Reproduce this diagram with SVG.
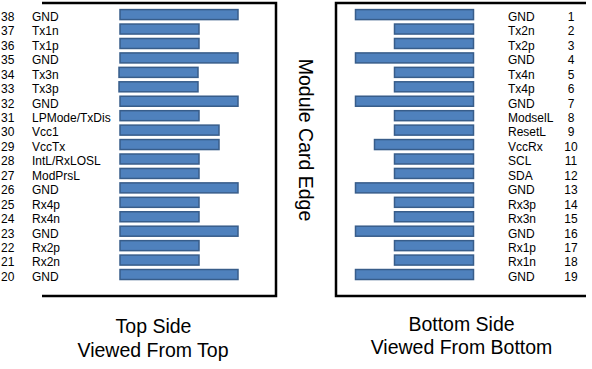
<svg xmlns="http://www.w3.org/2000/svg" width="592" height="369" viewBox="0 0 592 369">
<style>
.bar{fill:#4F81BD;stroke:#385D8A;stroke-width:1.5}
.t{font-family:"Liberation Sans",Arial,sans-serif;font-size:12px;fill:#000}
.n{font-family:"Liberation Sans",Arial,sans-serif;font-size:12px;fill:#000;text-anchor:middle}
.big{font-family:"Liberation Sans",Arial,sans-serif;font-size:19.5px;fill:#000;text-anchor:middle}
.frame{fill:none;stroke:#000;stroke-width:2.5}
</style>
<rect width="592" height="369" fill="#fff"/>
<g id="frames">
<path class="frame" d="M42 3 H276 V296 H42"/>
<path class="frame" d="M586 3 H336 V296 H586"/>
</g>
<g id="connectors"></g>
<g id="top-side">
<g id="pin38"><text class="t" x="1" y="20.9">38</text><text class="t" x="32" y="20.9">GND</text><rect class="bar" x="120" y="9.6" width="118" height="10"/></g>
<g id="pin37"><text class="t" x="1" y="35.34">37</text><text class="t" x="32" y="35.34">Tx1n</text><rect class="bar" x="120" y="24.04" width="79" height="10"/></g>
<g id="pin36"><text class="t" x="1" y="49.78">36</text><text class="t" x="32" y="49.78">Tx1p</text><rect class="bar" x="120" y="38.48" width="79" height="10"/></g>
<g id="pin35"><text class="t" x="1" y="64.22">35</text><text class="t" x="32" y="64.22">GND</text><rect class="bar" x="120" y="52.92" width="118" height="10"/></g>
<g id="pin34"><text class="t" x="1" y="78.66">34</text><text class="t" x="32" y="78.66">Tx3n</text><rect class="bar" x="119" y="67.36" width="79" height="10"/></g>
<g id="pin33"><text class="t" x="1" y="93.1">33</text><text class="t" x="32" y="93.1">Tx3p</text><rect class="bar" x="119" y="81.8" width="79" height="10"/></g>
<g id="pin32"><text class="t" x="1" y="107.54">32</text><text class="t" x="32" y="107.54">GND</text><rect class="bar" x="120" y="96.24" width="118" height="10"/></g>
<g id="pin31"><text class="t" x="1" y="121.98">31</text><text class="t" x="32" y="121.98">LPMode/TxDis</text><rect class="bar" x="120" y="110.68" width="79" height="10"/></g>
<g id="pin30"><text class="t" x="1" y="136.42">30</text><text class="t" x="32" y="136.42">Vcc1</text><rect class="bar" x="120" y="125.12" width="99" height="10"/></g>
<g id="pin29"><text class="t" x="1" y="150.86">29</text><text class="t" x="32" y="150.86">VccTx</text><rect class="bar" x="120" y="139.56" width="99" height="10"/></g>
<g id="pin28"><text class="t" x="1" y="165.3">28</text><text class="t" x="32" y="165.3">IntL/RxLOSL</text><rect class="bar" x="120" y="154" width="79" height="10"/></g>
<g id="pin27"><text class="t" x="1" y="179.74">27</text><text class="t" x="32" y="179.74">ModPrsL</text><rect class="bar" x="120" y="168.44" width="79" height="10"/></g>
<g id="pin26"><text class="t" x="1" y="194.18">26</text><text class="t" x="32" y="194.18">GND</text><rect class="bar" x="120" y="182.88" width="118" height="10"/></g>
<g id="pin25"><text class="t" x="1" y="208.62">25</text><text class="t" x="32" y="208.62">Rx4p</text><rect class="bar" x="120" y="197.32" width="79" height="10"/></g>
<g id="pin24"><text class="t" x="1" y="223.06">24</text><text class="t" x="32" y="223.06">Rx4n</text><rect class="bar" x="120" y="211.76" width="79" height="10"/></g>
<g id="pin23"><text class="t" x="1" y="237.5">23</text><text class="t" x="32" y="237.5">GND</text><rect class="bar" x="120" y="226.2" width="118" height="10"/></g>
<g id="pin22"><text class="t" x="1" y="251.94">22</text><text class="t" x="32" y="251.94">Rx2p</text><rect class="bar" x="120" y="240.64" width="79" height="10"/></g>
<g id="pin21"><text class="t" x="1" y="266.38">21</text><text class="t" x="32" y="266.38">Rx2n</text><rect class="bar" x="120" y="255.08" width="79" height="10"/></g>
<g id="pin20"><text class="t" x="1" y="280.82">20</text><text class="t" x="32" y="280.82">GND</text><rect class="bar" x="120" y="269.52" width="118" height="10"/></g>
</g>
<g id="bottom-side">
<g id="pin1"><rect class="bar" x="355.5" y="9.6" width="118" height="10"/><text class="t" x="508" y="20.9">GND</text><text class="n" x="571" y="20.9">1</text></g>
<g id="pin2"><rect class="bar" x="394.5" y="24.04" width="79" height="10"/><text class="t" x="508" y="35.34">Tx2n</text><text class="n" x="571" y="35.34">2</text></g>
<g id="pin3"><rect class="bar" x="394.5" y="38.48" width="79" height="10"/><text class="t" x="508" y="49.78">Tx2p</text><text class="n" x="571" y="49.78">3</text></g>
<g id="pin4"><rect class="bar" x="355.5" y="52.92" width="118" height="10"/><text class="t" x="508" y="64.22">GND</text><text class="n" x="571" y="64.22">4</text></g>
<g id="pin5"><rect class="bar" x="394.5" y="67.36" width="79" height="10"/><text class="t" x="508" y="78.66">Tx4n</text><text class="n" x="571" y="78.66">5</text></g>
<g id="pin6"><rect class="bar" x="394.5" y="81.8" width="79" height="10"/><text class="t" x="508" y="93.1">Tx4p</text><text class="n" x="571" y="93.1">6</text></g>
<g id="pin7"><rect class="bar" x="355.5" y="96.24" width="118" height="10"/><text class="t" x="508" y="107.54">GND</text><text class="n" x="571" y="107.54">7</text></g>
<g id="pin8"><rect class="bar" x="394.5" y="110.68" width="79" height="10"/><text class="t" x="508" y="121.98">ModselL</text><text class="n" x="571" y="121.98">8</text></g>
<g id="pin9"><rect class="bar" x="394.5" y="125.12" width="79" height="10"/><text class="t" x="508" y="136.42">ResetL</text><text class="n" x="571" y="136.42">9</text></g>
<g id="pin10"><rect class="bar" x="374.5" y="139.56" width="99" height="10"/><text class="t" x="508" y="150.86">VccRx</text><text class="n" x="571" y="150.86">10</text></g>
<g id="pin11"><rect class="bar" x="394.5" y="154" width="79" height="10"/><text class="t" x="508" y="165.3">SCL</text><text class="n" x="571" y="165.3">11</text></g>
<g id="pin12"><rect class="bar" x="394.5" y="168.44" width="79" height="10"/><text class="t" x="508" y="179.74">SDA</text><text class="n" x="571" y="179.74">12</text></g>
<g id="pin13"><rect class="bar" x="355.5" y="182.88" width="118" height="10"/><text class="t" x="508" y="194.18">GND</text><text class="n" x="571" y="194.18">13</text></g>
<g id="pin14"><rect class="bar" x="394.5" y="197.32" width="79" height="10"/><text class="t" x="508" y="208.62">Rx3p</text><text class="n" x="571" y="208.62">14</text></g>
<g id="pin15"><rect class="bar" x="394.5" y="211.76" width="79" height="10"/><text class="t" x="508" y="223.06">Rx3n</text><text class="n" x="571" y="223.06">15</text></g>
<g id="pin16"><rect class="bar" x="355.5" y="226.2" width="118" height="10"/><text class="t" x="508" y="237.5">GND</text><text class="n" x="571" y="237.5">16</text></g>
<g id="pin17"><rect class="bar" x="394.5" y="240.64" width="79" height="10"/><text class="t" x="508" y="251.94">Rx1p</text><text class="n" x="571" y="251.94">17</text></g>
<g id="pin18"><rect class="bar" x="394.5" y="255.08" width="79" height="10"/><text class="t" x="508" y="266.38">Rx1n</text><text class="n" x="571" y="266.38">18</text></g>
<g id="pin19"><rect class="bar" x="355.5" y="269.52" width="118" height="10"/><text class="t" x="508" y="280.82">GND</text><text class="n" x="571" y="280.82">19</text></g>
</g>
<g id="labels">
<text class="big" transform="translate(299,140) rotate(90)">Module Card Edge</text>
<text class="big" x="153.5" y="333">Top Side</text>
<text class="big" x="153" y="356.5">Viewed From Top</text>
<text class="big" x="461.5" y="331">Bottom Side</text>
<text class="big" x="461.5" y="354">Viewed From Bottom</text>
</g>
</svg>
